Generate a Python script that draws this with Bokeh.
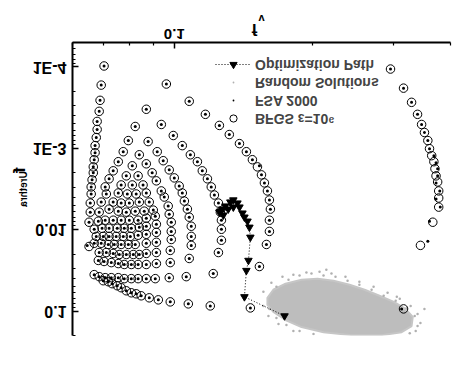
import math
from bokeh.plotting import figure
from bokeh.models import FixedTicker, Legend, LegendItem, LogAxis
from bokeh.embed import file_html
from bokeh.resources import INLINE

# ---------------- data ----------------
# points where the BFGS circle and the FSA dot coincide
grid_fv = [
    # left column
    0.0703, 0.0693, 0.0689, 0.0686, 0.0679, 0.0679, 0.0676, 0.0672, 0.0672, 0.0669,
    0.0666, 0.0666, 0.0662, 0.0659, 0.0659, 0.0656, 0.0656, 0.0652,
    # arc 0
    0.0961, 0.1078, 0.1169, 0.1254, 0.1318, 0.1387, 0.1436, 0.1480, 0.1549, 0.1572,
    0.1596, 0.1612, 0.1620, 0.1612, 0.1612, 0.1588, 0.1533, 0.1465,
    # arc 1
    0.0869, 0.0937, 0.0995, 0.1041, 0.1084, 0.1123, 0.1151, 0.1181, 0.1204, 0.1223,
    0.1248, 0.1260, 0.1267, 0.1267, 0.1267, 0.1248, 0.1216, 0.1198,
    # arc 2
    0.0822, 0.0877, 0.0918, 0.0946, 0.0975, 0.1000, 0.1025, 0.1041, 0.1052, 0.1068,
    0.1078, 0.1089, 0.1089, 0.1089, 0.1078, 0.1062, 0.1073,
    # arc 3
    0.0794, 0.0839, 0.0869, 0.0895, 0.0914, 0.0937, 0.0951, 0.0970, 0.0975, 0.0985,
    0.0985, 0.0985, 0.0980, 0.0980, 0.0975, 0.0980,
    # arc 4
    0.0774, 0.0810, 0.0834, 0.0855, 0.0869, 0.0882, 0.0900, 0.0909, 0.0914, 0.0914,
    0.0914, 0.0914, 0.0914, 0.0909, 0.0923,
    # arc 5
    0.0755, 0.0786, 0.0810, 0.0826, 0.0839, 0.0860, 0.0869, 0.0869, 0.0869, 0.0869,
    0.0869, 0.0869, 0.0869, 0.0882,
    # inner cluster
    0.0736, 0.0721, 0.0707, 0.0766,
    0.0711, 0.0755, 0.0790,
    0.0693, 0.0736, 0.0766, 0.0798,
    0.0686, 0.0721, 0.0755, 0.0786, 0.0822,
    0.0683, 0.0707, 0.0736, 0.0766, 0.0798, 0.0834,
    0.0669, 0.0696, 0.0721, 0.0751, 0.0778, 0.0806, 0.0839,
    0.0676, 0.0700, 0.0721, 0.0747, 0.0774, 0.0802, 0.0834,
    0.0669, 0.0693, 0.0718, 0.0740, 0.0766, 0.0794, 0.0822,
    0.0686, 0.0711, 0.0736, 0.0759, 0.0786, 0.0814, 0.0839,
    0.0683, 0.0703, 0.0729, 0.0755, 0.0778, 0.0806, 0.0834,
    0.0669, 0.0686, 0.0707, 0.0729, 0.0755, 0.0778, 0.0806, 0.0834,
    0.0700, 0.0718, 0.0732, 0.0751, 0.0766, 0.0786, 0.0806, 0.0826, 0.0847,
    # outer right arc, upper part
    0.296, 0.316, 0.329, 0.339, 0.346, 0.351, 0.357, 0.360,
]
grid_fu = [
    9.72e-5, 1.67e-4, 2.57e-4, 3.51e-4, 4.67e-4, 5.86e-4, 7.37e-4, 9.26e-4, 1.13e-3, 1.38e-3,
    1.69e-3, 2.00e-3, 2.44e-3, 2.98e-3, 3.64e-3, 4.71e-3, 6.09e-3, 8.10e-3,
    1.62e-4, 2.64e-4, 3.82e-4, 5.23e-4, 6.77e-4, 8.75e-4, 1.10e-3, 1.38e-3, 2.12e-3, 2.66e-3,
    3.34e-3, 4.32e-3, 5.59e-3, 7.65e-3, 1.05e-2, 1.52e-2, 2.84e-2, 9.16e-2,
    3.31e-4, 5.09e-4, 6.96e-4, 9.26e-4, 1.20e-3, 1.46e-3, 1.89e-3, 2.37e-3, 2.98e-3, 3.75e-3,
    4.71e-3, 6.09e-3, 7.65e-3, 9.89e-3, 1.35e-2, 1.91e-2, 3.47e-2, 8.65e-2,
    5.39e-4, 8.26e-4, 1.10e-3, 1.42e-3, 1.84e-3, 2.31e-3, 2.90e-3, 3.54e-3, 4.45e-3, 5.59e-3,
    7.02e-3, 9.08e-3, 1.21e-2, 1.56e-2, 2.26e-2, 3.78e-2, 8.17e-2,
    8.03e-4, 1.20e-3, 1.55e-3, 2.00e-3, 2.51e-3, 3.34e-3, 3.97e-3, 5.13e-3, 6.45e-3, 8.10e-3,
    1.05e-2, 1.32e-2, 1.80e-2, 2.54e-2, 3.89e-2, 7.72e-2,
    1.10e-3, 1.64e-3, 2.18e-3, 2.82e-3, 3.54e-3, 4.58e-3, 5.75e-3, 6.82e-3, 8.57e-3, 1.08e-2,
    1.43e-2, 1.91e-2, 2.61e-2, 4.00e-2, 7.29e-2,
    1.46e-3, 2.18e-3, 2.82e-3, 3.64e-3, 4.58e-3, 5.92e-3, 7.22e-3, 9.08e-3, 1.14e-2, 1.47e-2,
    1.96e-2, 2.68e-2, 4.00e-2, 6.88e-2,
    1.89e-3, 2.37e-3, 2.98e-3, 2.82e-3,
    3.64e-3, 3.54e-3, 3.64e-3,
    4.58e-3, 4.58e-3, 4.71e-3, 4.71e-3,
    6.09e-3, 5.59e-3, 5.92e-3, 6.09e-3, 5.92e-3,
    7.87e-3, 7.65e-3, 7.65e-3, 7.65e-3, 7.65e-3, 7.65e-3,
    9.89e-3, 9.61e-3, 9.61e-3, 9.61e-3, 9.61e-3, 9.61e-3, 9.34e-3,
    1.21e-2, 1.21e-2, 1.21e-2, 1.21e-2, 1.21e-2, 1.21e-2, 1.17e-2,
    1.47e-2, 1.47e-2, 1.52e-2, 1.52e-2, 1.52e-2, 1.52e-2, 1.52e-2,
    1.91e-2, 1.91e-2, 1.96e-2, 2.02e-2, 2.02e-2, 2.02e-2, 2.02e-2,
    2.39e-2, 2.46e-2, 2.54e-2, 2.61e-2, 2.68e-2, 2.68e-2, 2.68e-2,
    3.57e-2, 3.78e-2, 3.89e-2, 3.89e-2, 3.89e-2, 4.00e-2, 4.00e-2, 4.00e-2,
    4.24e-2, 4.36e-2, 4.61e-2, 4.89e-2, 5.17e-2, 5.64e-2, 5.97e-2, 6.14e-2, 6.50e-2,
    1.06e-4, 1.82e-4, 2.72e-4, 3.82e-4, 5.09e-4, 6.39e-4, 8.03e-4, 1.01e-3,
]

# BFGS-only circles (where the FSA dot sits off-centre)
bfgs_extra_fv = [0.364, 0.368, 0.370, 0.372, 0.375, 0.377, 0.377, 0.377, 0.366, 0.344, 0.316, 0.1518, 0.0652]
bfgs_extra_fu = [1.23e-3, 1.46e-3, 1.78e-3, 2.18e-3, 2.59e-3, 3.34e-3, 4.08e-3, 5.28e-3, 8.10e-3, 1.56e-2, 9.42e-2, 1.69e-3, 1.61e-2]
# FSA-only dots
fsa_extra_fv = [0.368, 0.372, 0.375, 0.375, 0.372, 0.379, 0.372, 0.380, 0.360, 0.357, 0.313, 0.1533, 0.0646]
fsa_extra_fu = [1.23e-3, 1.50e-3, 1.78e-3, 2.18e-3, 2.66e-3, 3.34e-3, 4.20e-3, 5.28e-3, 7.87e-3, 1.39e-2, 9.42e-2, 1.64e-3, 1.56e-2]

# optimization path
path_fv = [0.1739, 0.1422, 0.1436, 0.1451, 0.1465, 0.1458, 0.1444, 0.1422, 0.1408, 0.1387,
           0.1373, 0.1345, 0.1325, 0.1345, 0.1311, 0.1292, 0.1273, 0.1254, 0.1279, 0.1260]
path_fu = [0.115, 6.69e-2, 3.18e-2, 2.39e-2, 1.24e-2, 9.34e-3, 7.87e-3, 7.02e-3, 6.26e-3, 5.28e-3,
           4.71e-3, 4.32e-3, 4.58e-3, 5.28e-3, 5.59e-3, 5.13e-3, 5.59e-3, 6.09e-3, 6.63e-3, 5.92e-3]

# random solutions: dense cloud outline and stray points around it
cloud_fv = [0.1596, 0.1644, 0.1748, 0.1894, 0.2052, 0.2224, 0.241, 0.2599, 0.280, 0.301, 0.319,
            0.331, 0.329, 0.313, 0.283, 0.2435, 0.2115, 0.1894, 0.1748, 0.1644, 0.1596]
cloud_fu = [6.88e-2, 5.48e-2, 4.61e-2, 4.12e-2, 4.00e-2, 4.24e-2, 4.75e-2, 5.48e-2, 6.50e-2, 7.72e-2, 9.42e-2,
            0.118, 0.153, 0.182, 0.198, 0.198, 0.182, 0.1575, 0.129, 0.1026, 8.40e-2]
rand_fv = [0.1564, 0.1628, 0.1721, 0.1818, 0.1941, 0.2073, 0.2201, 0.2361, 0.2532, 0.2719, 0.2917, 0.3101,
           0.3275, 0.339, 0.344, 0.3359, 0.1564, 0.1604, 0.1687, 0.1818, 0.351, 0.3055, 0.2145,
           0.1670, 0.1774, 0.1875, 0.1991, 0.2115, 0.2246, 0.2386, 0.2532, 0.2692, 0.2860, 0.3038,
           0.3210, 0.3342, 0.339, 0.326, 0.1612, 0.1670, 0.1756, 0.1875, 0.2011]
rand_fu = [5.80e-2, 4.49e-2, 3.78e-2, 3.57e-2, 3.37e-2, 3.28e-2, 3.47e-2, 3.78e-2, 4.36e-2, 5.03e-2, 5.97e-2, 7.08e-2,
           8.65e-2, 0.1087, 0.1405, 0.1765, 8.65e-2, 0.115, 0.1445, 0.1765, 9.42e-2, 6.69e-2, 3.10e-2,
           5.03e-2, 4.12e-2, 3.67e-2, 3.47e-2, 3.67e-2, 3.78e-2, 4.24e-2, 4.75e-2, 5.48e-2, 6.50e-2, 7.50e-2,
           9.16e-2, 0.115, 0.153, 0.187, 9.42e-2, 0.1217, 0.1487, 0.1765, 0.192]

fu_major = [1e-4, 1e-3, 0.01, 0.1]
fu_labels = ["1E-4", "1E-3", "0.01", "0.1"]
fv_major = [0.1]
fv_labels = ["0.1"]

legend_labels = ["BFGS \u03b5=10\u2076", "FSA 2000", "Random Solutions", "Optimization Path"]

# ---------------- figure ----------------
FONT = "Liberation Sans"

p = figure(width=466, height=357, x_axis_type="log", y_axis_type="log",
           x_range=(0.06, 0.4), y_range=(5e-5, 0.2),
           output_backend="svg", toolbar_location=None,
           min_border_left=72, min_border_right=16, min_border_top=21, min_border_bottom=43)
# the reference picture is shown mirrored top-to-bottom
p.styles = {"transform": "scaleY(-1)"}
p.outline_line_color = None
p.grid.visible = False

cloud_r = p.patch(cloud_fv, cloud_fu, fill_color="#bdbdbd", line_color="#c6c6c6", line_width=2)
rand_r = p.scatter(rand_fv, rand_fu, marker="dot", size=10, color="#b0b0b0")
bfgs_r = p.scatter(grid_fv + bfgs_extra_fv, grid_fu + bfgs_extra_fu, marker="circle", size=8.5,
                   fill_color=None, line_color="black", line_width=1)
fsa_r = p.scatter(grid_fv + fsa_extra_fv, grid_fu + fsa_extra_fu, marker="dot", size=12,
                  color="black")
path_line = p.line(path_fv, path_fu, line_color="black", line_dash="1 2", line_width=1)
path_pts = p.scatter(path_fv, path_fu, marker="triangle", size=7.5, color="black")

fv_minor = [0.06, 0.07, 0.08, 0.09, 0.2, 0.3, 0.4]
fu_minor = [m * 10.0 ** e for e in range(-5, 0) for m in range(2, 10) if 5e-5 <= m * 10.0 ** e <= 0.2]

xa = p.xaxis[0]
xa.ticker = FixedTicker(ticks=fv_major, minor_ticks=fv_minor)
xa.major_label_overrides = dict(zip(fv_major, fv_labels))
ya = p.yaxis[0]
ya.ticker = FixedTicker(ticks=fu_major, minor_ticks=fu_minor)
ya.major_label_overrides = dict(zip(fu_major, fu_labels))
for ax in (xa, ya):
    ax.axis_line_width = 2
    ax.axis_line_color = "black"
    ax.major_tick_in = 6
    ax.major_tick_out = 0
    ax.minor_tick_in = 3
    ax.minor_tick_out = 0
    ax.major_tick_line_width = 1.5
    ax.minor_tick_line_width = 1.2
    ax.major_tick_line_color = "black"
    ax.minor_tick_line_color = "black"
    ax.major_label_text_font = FONT
    ax.major_label_text_font_style = "bold"
    ax.major_label_text_color = "black"
    ax.axis_label_text_font = FONT
    ax.axis_label_text_font_style = "bold"
    ax.axis_label_text_font_size = "17px"
    ax.axis_label_text_color = "black"
xa.major_label_text_font_size = "15px"
xa.major_label_standoff = 4
xa.axis_label = "f" + "\u00a0" * 3
xa.axis_label_standoff = -13
ya.major_label_text_font_size = "16px"
ya.major_label_standoff = 6
ya.axis_label = "f" + "\u00a0" * 8
ya.axis_label_standoff = 1


def subscript_axis(text, size, standoff):
    return LogAxis(ticker=FixedTicker(ticks=[]), axis_label=text, axis_label_standoff=standoff,
                   axis_line_color=None, major_tick_line_color=None, minor_tick_line_color=None,
                   major_tick_in=0, major_tick_out=0, minor_tick_in=0, minor_tick_out=0,
                   major_label_standoff=0, major_label_text_font_size="0px",
                   axis_label_text_font=FONT, axis_label_text_font_size=size,
                   axis_label_text_font_style="bold", axis_label_text_color="black")


# subscripts of the axis titles
p.add_layout(subscript_axis("v", "11px", -8), "below")
p.add_layout(subscript_axis("Urethra", "10px", -22), "left")

legend = Legend(items=[
    LegendItem(label=legend_labels[0], renderers=[bfgs_r]),
    LegendItem(label=legend_labels[1], renderers=[fsa_r]),
    LegendItem(label=legend_labels[2], renderers=[rand_r]),
    LegendItem(label=legend_labels[3], renderers=[path_line, path_pts]),
], location=(143, 13))
legend.border_line_color = None
legend.background_fill_alpha = 0
legend.label_text_font = FONT
legend.label_text_font_style = "bold"
legend.label_text_font_size = "14px"
legend.glyph_width = 36
legend.glyph_height = 18
legend.label_height = 18
legend.spacing = 0
legend.padding = 0
legend.margin = 0
legend.label_standoff = 4
p.add_layout(legend)

open("out.html", "w").write(file_html(p, INLINE))
